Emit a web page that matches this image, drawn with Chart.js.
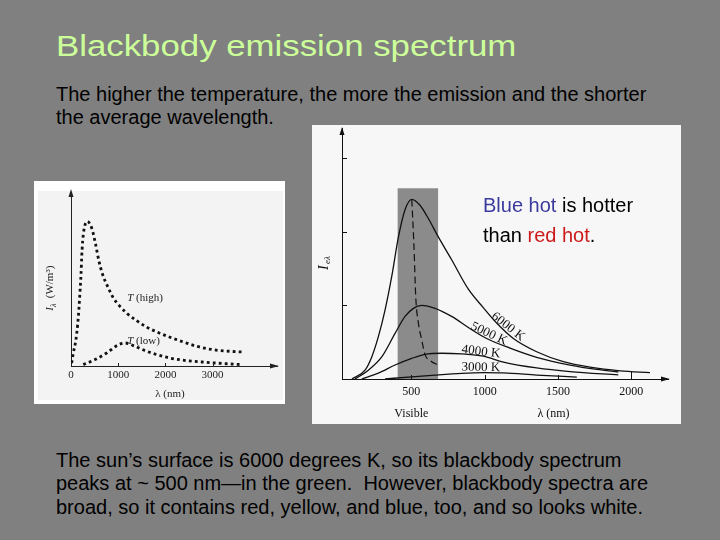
<!DOCTYPE html>
<html>
<head>
<meta charset="utf-8">
<script src="https://cdn.jsdelivr.net/npm/chart.js@4.4.0/dist/chart.umd.min.js"></script>
<style>
  html, body { margin: 0; padding: 0; }
  body { width: 720px; height: 540px; background: #808080; position: relative; overflow: hidden;
         font-family: "Liberation Sans", Arial, sans-serif; }
  .title { position: absolute; left: 56px; top: 30px; font-size: 29px; line-height: 33px;
           color: #ccff99; white-space: nowrap; transform: scaleX(1.2); transform-origin: 0 0; }
  .txt { position: absolute; left: 56px; font-size: 20px; line-height: 23.4px; color: #000; white-space: nowrap; }
  #leftBox { position: absolute; left: 34px; top: 181px; width: 251px; height: 223px; background: #fff; }
  #leftBox .inner { position: absolute; left: 4px; top: 10px; right: 2px; bottom: 4px; background: #f3f3f3; }
  #leftBox canvas, #rightBox canvas { position: absolute; left: 0; top: 0; }
  #rightBox { position: absolute; left: 312px; top: 125px; width: 369px; height: 299px; background: #f7f7f7; }
  .note { position: absolute; left: 483px; top: 191px; font-size: 20px; line-height: 29.5px; color: #000; white-space: nowrap; }
  .blue { color: #3b3b9e; }
  .red { color: #cc1a1a; }
</style>
</head>
<body>
<div class="title">Blackbody emission spectrum</div>
<div class="txt" style="top:83px">The higher the temperature, the more the emission and the shorter<br>the average wavelength.</div>

<div id="leftBox"><div class="inner"></div><canvas id="leftChart" width="251" height="223"></canvas></div>
<div id="rightBox"><canvas id="rightChart" width="369" height="299"></canvas></div>
<div class="note"><span class="blue">Blue hot</span> is hotter<br>than <span class="red">red hot</span>.</div>

<div class="txt" style="top:448.5px; line-height:23.9px">The sun’s surface is 6000 degrees K, so its blackbody spectrum<br>peaks at ~ 500 nm—in the green.&nbsp; However, blackbody spectra are<br>broad, so it contains red, yellow, and blue, too, and so looks white.</div>

<script>
// ---- left sketch: T(high) vs T(low), wavelength in nm
const leftXTicks = [0, 1000, 2000, 3000];
const highNm  = [14, 49, 99, 141, 169, 191, 212, 226, 247, 282, 346, 438, 523, 593, 671, 791, 897, 1024, 1179, 1391, 1603, 1815, 2097, 2380, 2662, 3015, 3369, 3616];
const highVal = [1.7, 7.5, 14.3, 23.9, 33.5, 43.2, 52.8, 62.4, 72.1, 79.8, 83.6, 79.8, 70.1, 60.5, 52.8, 45.1, 39.3, 34.9, 30.6, 26.2, 22.5, 19.7, 16.6, 13.9, 11.4, 9.4, 8.5, 8.1];
const lowNm   = [261, 508, 756, 1003, 1144, 1320, 1568, 1815, 2097, 2451, 2875, 3299, 3616];
const lowVal  = [0.8, 3.7, 7.5, 12.3, 13.3, 11.8, 8.9, 6.6, 4.6, 3.1, 2.1, 1.3, 0.8];

// ---- right figure: curves for 6000, 5000, 4000, 3000 K
const rightXTicks = [500, 1000, 1500, 2000];
const rightYTicks = [1, 2, 3];
const nm6000  = [95, 184, 230, 275, 321, 366, 412, 457, 503, 559, 616, 684, 775, 889, 991, 1082, 1196, 1355, 1537, 1719, 1924, 2128];
const val6000 = [0, 0.12, 0.30, 0.575, 0.94, 1.39, 1.93, 2.30, 2.44, 2.36, 2.18, 1.93, 1.62, 1.22, 0.97, 0.76, 0.55, 0.37, 0.235, 0.16, 0.11, 0.086];
const nm5000  = [116, 207, 298, 389, 457, 514, 571, 662, 775, 889, 1014, 1173, 1355, 1583, 1765, 1912];
const val5000 = [0, 0.12, 0.30, 0.62, 0.85, 0.96, 1.00, 0.96, 0.85, 0.70, 0.55, 0.42, 0.295, 0.19, 0.13, 0.095];
const nm4000  = [162, 275, 389, 503, 593, 707, 844, 991, 1128, 1355, 1583, 1912];
const val4000 = [0, 0.08, 0.19, 0.28, 0.335, 0.35, 0.34, 0.31, 0.23, 0.15, 0.10, 0.055];
const nm3000  = [321, 503, 662, 844, 991, 1128, 1355, 1629];
const val3000 = [0, 0.03, 0.054, 0.077, 0.086, 0.082, 0.054, 0.025];
const peakNm  = [503, 518, 530, 548, 571, 593, 639, 684];
const peakVal = [2.44, 1.80, 1.12, 0.76, 0.53, 0.335, 0.235, 0.19];
const visibleNm  = [405, 684];
const visibleTop = [2.59, 2.59];
const curveNames = ['6000 K', '5000 K', '4000 K', '3000 K'];
const curveLabelNm  = [1160, 1030, 975, 975];
const curveLabelVal = [0.71, 0.615, 0.37, 0.156];
const curveLabelAngle = [38, 25, 7, 1];

const pts = (xs, ys) => xs.map((x, i) => ({ x: x, y: ys[i] }));
const serif = '"Liberation Serif", "Times New Roman", serif';

function arrowUp(ctx, x, y) {
  ctx.beginPath();
  ctx.moveTo(x, y); ctx.lineTo(x - 2.5, y + 8); ctx.lineTo(x + 2.5, y + 8); ctx.closePath(); ctx.fill();
}
function arrowRight(ctx, x, y) {
  ctx.beginPath();
  ctx.moveTo(x, y); ctx.lineTo(x - 9, y - 2.5); ctx.lineTo(x - 9, y + 2.5); ctx.closePath(); ctx.fill();
}

const leftDecor = {
  id: 'leftDecor',
  afterDraw(chart) {
    const ctx = chart.ctx, a = chart.chartArea, xs = chart.scales.x, ys = chart.scales.y;
    ctx.save();
    ctx.fillStyle = '#222'; ctx.strokeStyle = '#222'; ctx.lineWidth = 1;
    arrowUp(ctx, a.left, a.top - 4);
    arrowRight(ctx, a.right + 2, a.bottom);
    leftXTicks.slice(1).forEach(v => {
      const px = Math.round(xs.getPixelForValue(v)) + 0.5;
      ctx.beginPath(); ctx.moveTo(px, a.bottom); ctx.lineTo(px, a.bottom - 3); ctx.stroke();
    });
    // curve labels
    ctx.textBaseline = 'middle';
    [['(high)', 1568, 39.3], ['(low)', 1536, 14.5]].forEach(([t, x, y]) => {
      const px = xs.getPixelForValue(x), py = ys.getPixelForValue(y);
      ctx.font = 'italic 11px ' + serif;
      const w1 = ctx.measureText('T ').width;
      ctx.font = '11px ' + serif;
      const w2 = ctx.measureText(t).width;
      const sx = px - (w1 + w2) / 2;
      ctx.font = 'italic 11px ' + serif; ctx.fillText('T ', sx, py);
      ctx.font = '11px ' + serif; ctx.fillText(t, sx + w1, py);
    });
    // axis titles
    ctx.textAlign = 'center';
    ctx.font = '11px ' + serif;
    ctx.fillText('λ (nm)', xs.getPixelForValue(2097), 213);
    ctx.save();
    ctx.translate(16, ys.getPixelForValue(45));
    ctx.rotate(-Math.PI / 2);
    ctx.textAlign = 'left';
    ctx.font = 'italic 11px ' + serif;
    const wI = ctx.measureText('I').width;
    ctx.font = '11px ' + serif;
    const rest = ' (W/m³)';
    const wR = ctx.measureText(rest).width;
    const sx = -(wI + 6 + wR) / 2;
    ctx.font = 'italic 11px ' + serif; ctx.fillText('I', sx, 0);
    ctx.font = 'italic 8px ' + serif; ctx.fillText('λ', sx + wI, 4);
    ctx.font = '11px ' + serif; ctx.fillText(rest, sx + wI + 6, 0);
    ctx.restore();
    ctx.restore();
  }
};

const rightDecor = {
  id: 'rightDecor',
  afterDraw(chart) {
    const ctx = chart.ctx, a = chart.chartArea, xs = chart.scales.x, ys = chart.scales.y;
    ctx.save();
    ctx.fillStyle = '#111'; ctx.strokeStyle = '#111'; ctx.lineWidth = 1;
    arrowUp(ctx, a.left, a.top - 1);
    arrowRight(ctx, a.right + 2, a.bottom);
    rightXTicks.forEach(v => {
      const px = Math.round(xs.getPixelForValue(v)) + 0.5;
      ctx.beginPath(); ctx.moveTo(px, a.bottom); ctx.lineTo(px, a.bottom - (v === 2000 ? 7 : 4)); ctx.stroke();
    });
    rightYTicks.forEach(v => {
      const py = Math.round(ys.getPixelForValue(v)) + 0.5;
      ctx.beginPath(); ctx.moveTo(a.left, py); ctx.lineTo(a.left + 5, py); ctx.stroke();
    });
    // curve labels
    ctx.font = '13px ' + serif;
    ctx.textAlign = 'center'; ctx.textBaseline = 'middle';
    curveNames.forEach((t, i) => {
      ctx.save();
      ctx.translate(xs.getPixelForValue(curveLabelNm[i]), ys.getPixelForValue(curveLabelVal[i]));
      ctx.rotate(curveLabelAngle[i] * Math.PI / 180);
      ctx.fillText(t, 0, 0);
      ctx.restore();
    });
    // axis titles
    ctx.font = '12px ' + serif;
    ctx.fillText('Visible', xs.getPixelForValue(500), 289);
    ctx.fillText('λ (nm)', xs.getPixelForValue(1470), 289);
    ctx.save();
    ctx.translate(12, 137);
    ctx.rotate(-Math.PI / 2);
    ctx.textAlign = 'left';
    ctx.font = 'italic 14px ' + serif;
    ctx.fillText('I', -8, 0);
    ctx.font = 'italic 9px ' + serif;
    ctx.fillText('eλ', -2, 4);
    ctx.restore();
    ctx.restore();
  }
};

const lineStyle = { borderColor: '#111', borderWidth: 1.3, pointRadius: 0, fill: false, cubicInterpolationMode: 'monotone', order: 1 };
const dotStyle = { borderColor: '#111', borderWidth: 2.8, borderDash: [2.8, 3.2], pointRadius: 0, fill: false, cubicInterpolationMode: 'monotone' };

new Chart(document.getElementById('leftChart'), {
  type: 'line',
  data: {
    datasets: [
      Object.assign({ data: pts(highNm, highVal) }, dotStyle),
      Object.assign({ data: pts(lowNm, lowVal) }, dotStyle)
    ]
  },
  options: {
    responsive: false, animation: false, devicePixelRatio: 1,
    layout: { padding: { left: 0, right: 8, top: 12, bottom: 0 } },
    plugins: { legend: { display: false }, tooltip: { enabled: false } },
    scales: {
      x: {
        type: 'linear', min: 0, max: 4364,
        grid: { display: false, drawTicks: false }, border: { color: '#222', width: 1 },
        afterBuildTicks: s => { s.ticks = leftXTicks.map(v => ({ value: v })); },
        ticks: { padding: 3, color: '#222', autoSkip: false, maxRotation: 0, font: { family: serif, size: 11 }, callback: v => String(v) },
        afterFit: s => { s.height = 38; }
      },
      y: {
        type: 'linear', min: 0, max: 100,
        grid: { display: false, drawTicks: false }, border: { color: '#222', width: 1 },
        ticks: { display: false },
        afterFit: s => { s.width = 37; }
      }
    }
  },
  plugins: [leftDecor]
});

new Chart(document.getElementById('rightChart'), {
  type: 'line',
  data: {
    datasets: [
      { data: pts(visibleNm, visibleTop), borderWidth: 0, pointRadius: 0, fill: 'origin', backgroundColor: '#8b8b8b', order: 5 },
      Object.assign({ data: pts(nm6000, val6000) }, lineStyle),
      Object.assign({ data: pts(nm5000, val5000) }, lineStyle),
      Object.assign({ data: pts(nm4000, val4000) }, lineStyle),
      Object.assign({ data: pts(nm3000, val3000) }, lineStyle),
      Object.assign({ data: pts(peakNm, peakVal) }, lineStyle, { borderDash: [7, 4], borderWidth: 1.2 })
    ]
  },
  options: {
    responsive: false, animation: false, devicePixelRatio: 1,
    layout: { padding: { left: 0, right: 13, top: 3, bottom: 0 } },
    plugins: { legend: { display: false }, tooltip: { enabled: false } },
    scales: {
      x: {
        type: 'linear', min: 27, max: 2251,
        grid: { display: false, drawTicks: false }, border: { color: '#111', width: 1 },
        afterBuildTicks: s => { s.ticks = rightXTicks.map(v => ({ value: v })); },
        ticks: { padding: 6, color: '#111', autoSkip: false, maxRotation: 0, font: { family: serif, size: 12 }, callback: v => String(v) },
        afterFit: s => { s.height = 45; }
      },
      y: {
        type: 'linear', min: 0, max: 3.41,
        grid: { display: false, drawTicks: false }, border: { color: '#111', width: 1 },
        ticks: { display: false },
        afterFit: s => { s.width = 30; }
      }
    }
  },
  plugins: [rightDecor]
});
</script>
</body>
</html>
